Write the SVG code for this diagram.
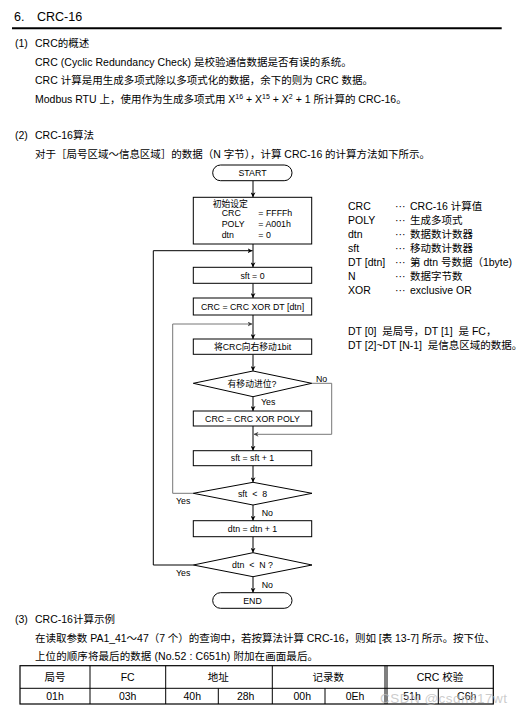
<svg xmlns="http://www.w3.org/2000/svg" width="525" height="714" viewBox="0 0 525 714">
<style>
text{font-family:"Liberation Sans","Noto Sans CJK SC",sans-serif;fill:#000}
.b{font-size:10.5px}
.h{font-size:12.5px}
.f{font-size:8.8px}
.fc{font-size:8.8px;text-anchor:middle}
.l{font-size:10.5px}
.t{font-size:10.5px;text-anchor:middle}
.box{fill:#fff;stroke:#000;stroke-width:1}
.ln{fill:none;stroke:#000;stroke-width:1}
.gl{fill:none;stroke:#777;stroke-width:1}
.sup{font-size:7px}
.pre{white-space:pre}
</style>
<defs>
<marker id="ah" viewBox="0 0 10 10" refX="10" refY="5" markerWidth="5" markerHeight="5" orient="auto">
<path d="M0,0 L10,5 L0,10 L3,5 Z" fill="#000"/>
</marker>
<marker id="ahg" viewBox="0 0 10 10" refX="10" refY="5" markerWidth="5" markerHeight="5" orient="auto">
<path d="M0,0 L10,5 L0,10 L3,5 Z" fill="#444"/>
</marker>
</defs>
<rect width="525" height="714" fill="#fff"/>

<g id="text-top">
<text class="h" x="14" y="21">6.</text>
<text class="h" x="37" y="21">CRC-16</text>
<line x1="12" y1="28.3" x2="501.7" y2="28.3" stroke="#000" stroke-width="2"/>
<text class="b" x="15" y="47">(1)</text>
<text class="b" x="35" y="47">CRC的概述</text>
<text class="b" x="35" y="65.5" textLength="316.7" lengthAdjust="spacing">CRC (Cyclic Redundancy Check) 是校验通信数据是否有误的系统。</text>
<text class="b" x="35" y="84" textLength="338" lengthAdjust="spacing">CRC 计算是用生成多项式除以多项式化的数据，余下的则为 CRC 数据。</text>
<text class="b" x="35" y="103" textLength="371.7" lengthAdjust="spacing">Modbus RTU 上，使用作为生成多项式用 X<tspan class="sup" dy="-4">16</tspan><tspan dy="4"> + X</tspan><tspan class="sup" dy="-4">15</tspan><tspan dy="4"> + X</tspan><tspan class="sup" dy="-4">2</tspan><tspan dy="4"> + 1 所计算的 CRC-16。</tspan></text>
<text class="b" x="15" y="139">(2)</text>
<text class="b" x="35" y="139">CRC-16算法</text>
<text class="b" x="35" y="158" textLength="395" lengthAdjust="spacing">对于［局号区域～信息区域］的数据（N 字节），计算 CRC-16 的计算方法如下所示。</text>
</g>

<g id="connectors">
<line class="ln" x1="253" y1="180.7" x2="253" y2="197.3" marker-end="url(#ah)"/>
<line class="ln" x1="253" y1="244" x2="253" y2="267.3" marker-end="url(#ah)"/>
<line class="ln" x1="253" y1="283.3" x2="253" y2="298" marker-end="url(#ah)"/>
<line class="ln" x1="253" y1="315" x2="253" y2="339" marker-end="url(#ah)"/>
<line class="ln" x1="253" y1="354.3" x2="253" y2="371" marker-end="url(#ah)"/>
<line class="ln" x1="253" y1="396.7" x2="253" y2="411" marker-end="url(#ah)"/>
<line class="ln" x1="253" y1="426" x2="253" y2="450.7" marker-end="url(#ah)"/>
<line class="ln" x1="253" y1="465.7" x2="253" y2="482.3" marker-end="url(#ah)"/>
<line class="ln" x1="253" y1="505" x2="253" y2="520.7" marker-end="url(#ah)"/>
<line class="ln" x1="253" y1="536.7" x2="253" y2="552.7" marker-end="url(#ah)"/>
<line class="ln" x1="253" y1="576.7" x2="253" y2="592.7" marker-end="url(#ah)"/>
<polyline class="ln" points="193.3,565 153.3,565 153.3,250.7 252.5,250.7" marker-end="url(#ah)"/>
<polyline class="gl" points="193.3,493.3 172.7,493.3 172.7,324 252.5,324" marker-end="url(#ahg)"/>
<polyline class="gl" points="311.7,383.3 331.7,383.3 331.7,434.3 253.5,434.3" marker-end="url(#ahg)"/>
</g>

<g id="n-start">
<rect class="box" x="212.7" y="165" width="79.3" height="15.7" rx="7.8"/>
<text class="fc" x="252.5" y="176.3">START</text>
</g>
<g id="n-init">
<rect class="box" x="193.3" y="197.3" width="118.4" height="46.7"/>
<text class="f" x="212.7" y="206.5">初始设定</text>
<text class="f" x="221.7" y="216">CRC</text>
<text class="f" x="258.3" y="216">= FFFFh</text>
<text class="f" x="221.7" y="226.5">POLY</text>
<text class="f" x="258.3" y="226.5">= A001h</text>
<text class="f" x="221.7" y="238">dtn</text>
<text class="f" x="258.3" y="238">= 0</text>
</g>
<g id="n-sft0">
<rect class="box" x="193.3" y="267.3" width="118.4" height="16"/>
<text class="fc" x="252.5" y="278.5">sft = 0</text>
</g>
<g id="n-xordt">
<rect class="box" x="193.3" y="298" width="118.4" height="17"/>
<text class="fc" x="252.5" y="309.7">CRC = CRC XOR DT [dtn]</text>
</g>
<g id="n-shift">
<rect class="box" x="193.3" y="339" width="118.4" height="15.3"/>
<text class="fc" x="252.5" y="350">将CRC向右移动1bit</text>
</g>
<g id="n-carry">
<polygon class="box" points="253,371 311.7,383.3 253,396.7 193.3,383.3"/>
<text class="fc" x="252" y="386.5">有移动进位?</text>
<text class="f" x="316" y="382">No</text>
<text class="f" x="261" y="405">Yes</text>
</g>
<g id="n-xorpoly">
<rect class="box" x="193.3" y="411" width="118.4" height="15"/>
<text class="fc" x="252.5" y="421.7">CRC = CRC XOR POLY</text>
</g>
<g id="n-sftinc">
<rect class="box" x="193.3" y="450.7" width="118.4" height="15"/>
<text class="fc" x="252.5" y="461.4">sft = sft + 1</text>
</g>
<g id="n-sft8">
<polygon class="box" points="253,482.3 312,493.3 253,505 193.3,493.3"/>
<text class="fc pre" x="252.5" y="496.5">sft  &lt;  8</text>
<text class="f" x="176" y="504">Yes</text>
<text class="f" x="261.7" y="515.5">No</text>
</g>
<g id="n-dtninc">
<rect class="box" x="193.3" y="520.7" width="118.4" height="16"/>
<text class="fc" x="252.5" y="532">dtn = dtn + 1</text>
</g>
<g id="n-dtnN">
<polygon class="box" points="253,552.7 312,565 253,576.7 193.3,565"/>
<text class="fc pre" x="252.5" y="568.2">dtn  &lt;  N ?</text>
<text class="f" x="176" y="576">Yes</text>
<text class="f" x="261.7" y="587.5">No</text>
</g>
<g id="n-end">
<rect class="box" x="212.7" y="592.7" width="79.3" height="15.6" rx="7.8"/>
<text class="fc" x="252.5" y="603.7">END</text>
</g>

<g id="legend">
<text class="l" x="348" y="210.4">CRC</text><text class="l" x="395" y="210.4">···</text><text class="l" x="410" y="210.4">CRC-16 计算值</text>
<text class="l" x="348" y="224.4">POLY</text><text class="l" x="395" y="224.4">···</text><text class="l" x="410" y="224.4">生成多项式</text>
<text class="l" x="348" y="238.4">dtn</text><text class="l" x="395" y="238.4">···</text><text class="l" x="410" y="238.4">数据数计数器</text>
<text class="l" x="348" y="252.4">sft</text><text class="l" x="395" y="252.4">···</text><text class="l" x="410" y="252.4">移动数计数器</text>
<text class="l" x="348" y="266.4">DT [dtn]</text><text class="l" x="395" y="266.4">···</text><text class="l" x="410" y="266.4">第 dtn 号数据（1byte)</text>
<text class="l" x="348" y="280.4">N</text><text class="l" x="395" y="280.4">···</text><text class="l" x="410" y="280.4">数据字节数</text>
<text class="l" x="348" y="294.4">XOR</text><text class="l" x="395" y="294.4">···</text><text class="l" x="410" y="294.4">exclusive OR</text>
<text class="l pre" x="348" y="335.4">DT [0]  是局号，DT [1]  是 FC，</text>
<text class="l pre" x="348" y="348.7">DT [2]~DT [N-1]  是信息区域的数据。</text>
</g>

<g id="text-bottom">
<text class="b" x="15" y="623">(3)</text>
<text class="b" x="35" y="623">CRC-16计算示例</text>
<text class="b" x="35" y="641.5" textLength="460" lengthAdjust="spacing">在读取参数 PA1_41～47（7 个）的查询中，若按算法计算 CRC-16，则如 [表 13-7] 所示。按下位、</text>
<text class="b" x="35" y="660" textLength="283" lengthAdjust="spacing">上位的顺序将最后的数据 (No.52 : C651h) 附加在画面最后。</text>
</g>

<g id="table">
<rect x="20" y="665.7" width="473.3" height="38.3" fill="none" stroke="#000" stroke-width="1.2"/>
<line class="ln" x1="20" y1="688.3" x2="493.3" y2="688.3"/>
<line class="ln" x1="90" y1="665.7" x2="90" y2="704"/>
<line class="ln" x1="165.7" y1="665.7" x2="165.7" y2="704"/>
<line class="ln" x1="272.3" y1="665.7" x2="272.3" y2="704"/>
<line class="ln" x1="385" y1="665.7" x2="385" y2="704"/>
<line class="ln" x1="387" y1="665.7" x2="387" y2="704"/>
<line class="ln" x1="218.3" y1="688.3" x2="218.3" y2="704"/>
<line class="ln" x1="325" y1="688.3" x2="325" y2="704"/>
<line class="ln" x1="438.3" y1="688.3" x2="438.3" y2="704"/>
<text class="t" x="55" y="681">局号</text>
<text class="t" x="127.7" y="681">FC</text>
<text class="t" x="218.3" y="681">地址</text>
<text class="t" x="328.3" y="681">记录数</text>
<text class="t" x="440" y="681">CRC 校验</text>
<text class="t" x="55" y="700.4">01h</text>
<text class="t" x="127.7" y="700.4">03h</text>
<text class="t" x="192.3" y="700.4">40h</text>
<text class="t" x="245.7" y="700.4">28h</text>
<text class="t" x="302.3" y="700.4">00h</text>
<text class="t" x="355" y="700.4">0Eh</text>
<text class="t" x="412" y="700.4">51h</text>
<text class="t" x="466.7" y="700.4">C6h</text>
</g>
<text id="watermark" x="380" y="702.5" font-size="13.5" textLength="127" lengthAdjust="spacing" style="fill:#bbb;fill-opacity:0.75">CSDN @csdn617wt</text>
</svg>
